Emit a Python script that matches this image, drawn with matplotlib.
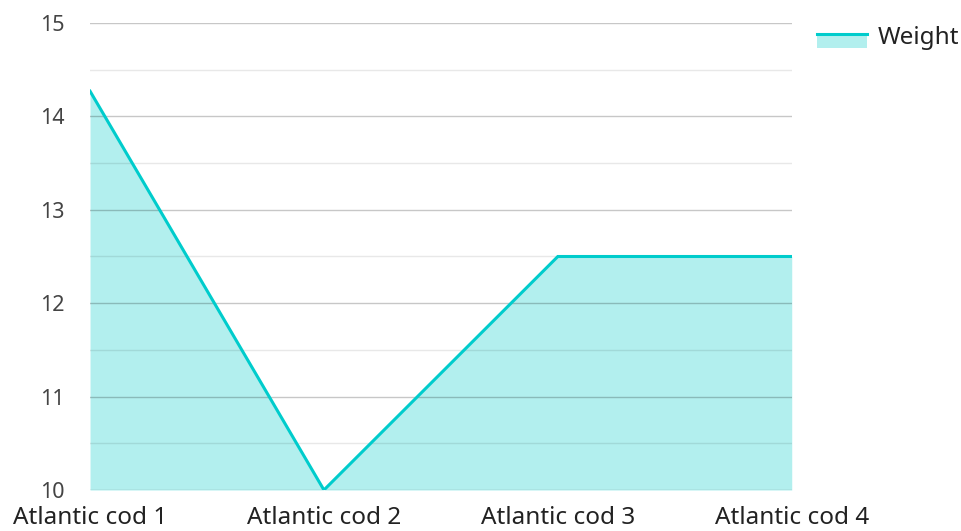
import matplotlib
matplotlib.use("Agg")
from matplotlib import pyplot as plt
from matplotlib.legend_handler import HandlerBase
from matplotlib.patches import Rectangle
from matplotlib.lines import Line2D

# data
fish = ['Atlantic cod 1', 'Atlantic cod 2', 'Atlantic cod 3', 'Atlantic cod 4']
weight = [14.27, 10.0, 12.5, 12.5]
y_ticks = [10, 11, 12, 13, 14, 15]

line_color = '#00cccc'
fill_color = '#b2efee'

plt.rcParams['font.family'] = ['Noto Sans', 'DejaVu Sans']


class AreaHandler(HandlerBase):
    # filled box with the line along its top edge, like the reference legend
    def create_artists(self, legend, orig_handle, xdescent, ydescent,
                       width, height, fontsize, trans):
        y0 = -ydescent - height * 0.24
        top_y = -ydescent + height * 0.56
        box = Rectangle((-xdescent, y0), width, top_y - y0,
                        facecolor=fill_color, edgecolor='none', transform=trans)
        top = Line2D([-xdescent, -xdescent + width], [top_y, top_y],
                     color=line_color, lw=2.2, transform=trans)
        return [box, top]


fig = plt.figure(figsize=(9.62, 5.31), dpi=100)
ax = fig.add_axes([0.0936, 0.0772, 0.823 - 0.0936, 0.9567 - 0.0772])

x = range(len(fish))
ax.fill_between(x, weight, 10, color=fill_color, lw=0, zorder=1)
line, = ax.plot(x, weight, color=line_color, lw=2.2, zorder=3, solid_joinstyle='miter')

ax.set_xlim(0, len(fish) - 1)
ax.set_ylim(10, 15)
ax.set_yticks(y_ticks)
ax.set_yticks([10.5, 11.5, 12.5, 13.5, 14.5], minor=True)
ax.grid(axis='y', which='major', color='#000000', alpha=0.22, lw=1, zorder=2)
ax.grid(axis='y', which='minor', color='#000000', alpha=0.09, lw=1, zorder=2)
ax.set_axisbelow(False)

ax.set_xticks(list(x))
ax.set_xticklabels(fish)
for sp in ax.spines.values():
    sp.set_visible(False)
ax.tick_params(axis='both', which='both', length=0, colors='#444444')
ax.tick_params(axis='y', labelsize=15.5, pad=18)
ax.tick_params(axis='x', labelsize=17.5, pad=11.5)
for lab in ax.get_xticklabels():
    lab.set_color('#222222')

ax.legend([line], ['Weight'], handler_map={line: AreaHandler()},
          loc='upper left', bbox_to_anchor=(1.005, 1.041), frameon=False,
          fontsize=17.5, handlelength=2.06, handletextpad=0.42, labelcolor='#222222')

fig.savefig('out.png', dpi=100)
